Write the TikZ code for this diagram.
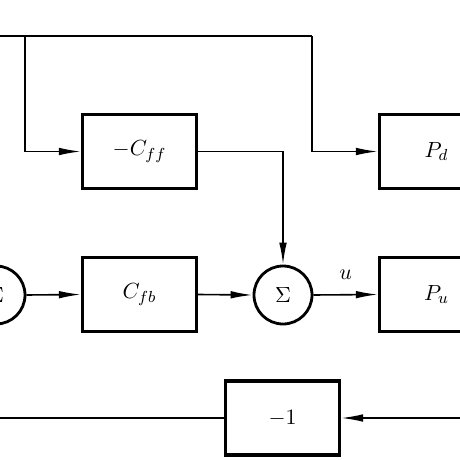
\documentclass[tikz,border=0pt]{standalone}
\usepackage{amsmath}
\usetikzlibrary{arrows.meta}

\begin{document}
\begin{tikzpicture}[x=0.5pt,y=-0.5pt,font=\fontsize{11.3}{13}\selectfont,
  blk/.style={draw,line width=1.6pt,minimum width=57pt,minimum height=37pt},
  sumnode/.style={draw,circle,line width=1.4pt,minimum size=29pt,inner sep=0pt},
  sig/.style={line width=0.8pt,-{Latex[length=11pt,width=3.8pt]}},
  wire/.style={line width=0.8pt}]
\useasboundingbox (0,0) rectangle (460,460);
\node[blk] (cff) at (139.5,151.5) {$-C_{ff}$};
\node[blk] (pd) at (436.5,151.5) {$P_d$};
\node[sumnode] (sumin) at (-4,295) {$\Sigma$};
\node[blk] (cfb) at (139.5,294.5) {$C_{fb}$};
\node[sumnode] (sum) at (283,295) {$\Sigma$};
\node[blk] (pu) at (436.5,294.5) {$P_u$};
\node[blk] (neg) at (282.5,418) {$-1$};
\coordinate (in) at (0,36);
\coordinate (tapa) at (25,36);
\coordinate (tapb) at (312,36);
\coordinate (fbin) at (460,418);
\coordinate (fbout) at (0,418);
\draw[wire] (in) -- (tapb);
\draw[sig] (tapa) |- (cff.west);
\draw[sig] (tapb) |- (pd.west);
\draw[sig] (cff.east) -| (sum.north);
\draw[sig] (sumin.east) -- (cfb.west);
\draw[sig] (cfb.east) -- (sum.west);
\draw[sig] (sum.east) -- node[above=4pt] {$u$} (pu.west);
\draw[sig] (fbin) -- (neg.east);
\draw[wire] (neg.west) -- (fbout);
\end{tikzpicture}
\end{document}
